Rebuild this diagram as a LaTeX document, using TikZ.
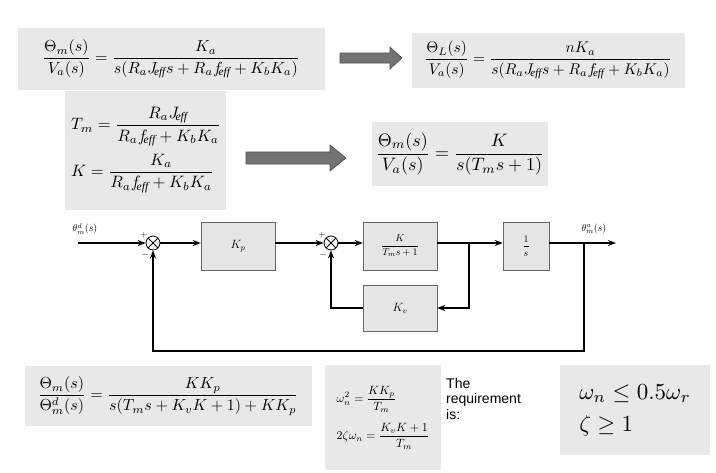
\documentclass[tikz,border=0pt]{standalone}
\usepackage{amsmath}
\usepackage{fontspec}
\setmainfont{Liberation Serif}
\newfontfamily\sansf{Liberation Sans}
\usetikzlibrary{arrows.meta}
\begin{document}
\begin{tikzpicture}[x=1pt,y=-1pt,
  gbox/.style={fill=black!9,inner sep=3pt},
  blk/.style={draw=black!60,fill=black!10,minimum width=74pt,minimum height=48pt,inner sep=0pt},
  sig/.style={line width=1.3pt,-{Stealth[length=8pt,width=6pt]}},
  ln/.style={line width=1.3pt},
  fatarrow/.style={draw=black!70,fill=black!55,line width=0.6pt},
  sumj/.style={circle,draw,line width=0.8pt,minimum size=14pt,inner sep=0pt,path picture={\draw[line width=0.8pt] (path picture bounding box.north west)--(path picture bounding box.south east) (path picture bounding box.north east)--(path picture bounding box.south west);}}]
\useasboundingbox (0,0) rectangle (716,472);
\fill[white] (0,0) rectangle (716,472);
% top equations
\fill[black!9] (18,28) rectangle (325,90);
\node[scale=1.6] (e1) at (171,59) {$\displaystyle\frac{\Theta_m(s)}{V_a(s)}=\frac{K_a}{s(R_aJ_{\!\mathit{eff}}s+R_af_{\!\mathit{eff}}+K_bK_a)}$};
\fill[black!9] (412,33) rectangle (685,88);
\node[scale=1.55] (e2) at (548,60) {$\displaystyle\frac{\Theta_L(s)}{V_a(s)}=\frac{nK_a}{s(R_aJ_{\!\mathit{eff}}s+R_af_{\!\mathit{eff}}+K_bK_a)}$};
\fill[black!9] (65,91) rectangle (226,210);
\node[scale=1.65,align=left] (e3) at (146,150) {$\displaystyle T_m=\frac{R_aJ_{\!\mathit{eff}}}{R_af_{\!\mathit{eff}}+K_bK_a}$\\[4pt]$\displaystyle K=\frac{K_a}{R_af_{\!\mathit{eff}}+K_bK_a}$};
\fill[black!9] (372,122) rectangle (548,186);
\node[scale=1.8] (e4) at (460,154) {$\displaystyle\frac{\Theta_m(s)}{V_a(s)}=\frac{K}{s(T_ms+1)}$};
\path[fatarrow] (340,53)--(390,53)--(390,47)--(402,58)--(390,69)--(390,63)--(340,63)--cycle;
\path[fatarrow] (246,152)--(330,152)--(330,145)--(346,158)--(330,171)--(330,164)--(246,164)--cycle;
% block diagram
\coordinate (in) at (78,243);
\node at (85,229) {$\theta_m^d(s)$};
\node[sumj] (s1) at (153,243) {};
\node[blk] (kp) at (238,246) {\large$K_p$};
\node[sumj] (s2) at (331,243) {};
\node[blk] (g) at (400,246) {$\dfrac{K}{T_ms+1}$};
\node[blk,minimum width=46pt] (int) at (526,246) {$\dfrac{1}{s}$};
\node[blk,minimum height=46pt] (kv) at (400,308) {\large$K_v$};
\coordinate (br) at (469,243);
\coordinate (po) at (584,243);
\coordinate (out) at (616,243);
\node at (594,229) {$\theta_m^a(s)$};
\draw[sig] (in)--(s1);
\draw[sig] (s1)--(kp.west|-s1);
\draw[sig] (kp.east|-s2)--(s2);
\draw[sig] (s2)--(g.west|-s2);
\draw[ln] (g.east|-br)--(br);
\draw[sig] (br)--(int.west|-br);
\draw[sig] (int.east|-po)--(out);
\draw[sig] (br)--(br|-kv)--(kv.east);
\draw[sig] (kv.west)-|(s2.south);
\draw[sig] (po)--++(0,108)-|(s1.south);
\node at (144,235) {\small$+$};
\node at (145,255) {\small$-$};
\node at (322,235) {\small$+$};
\node at (323,255) {\small$-$};
% bottom
\fill[black!9] (25,366) rectangle (312,426);
\node[scale=1.6] (e5) at (168,396) {$\displaystyle\frac{\Theta_m(s)}{\Theta^d_m(s)}=\frac{KK_p}{s(T_ms+K_vK+1)+KK_p}$};
\fill[black!9] (325,365) rectangle (441,470);
\node[align=left,scale=1.2] (e6) at (383,418) {$\displaystyle\omega_n^2=\frac{KK_p}{T_m}$\\[8pt]$\displaystyle2\zeta\omega_n=\frac{K_vK+1}{T_m}$};
\node[align=left,anchor=north west,inner sep=0pt,font=\sansf\fontsize{14}{15.5}\selectfont] (req) at (446,378) {The\\requirement\\is:};
\fill[black!9] (560,365) rectangle (710,455);
\node[align=left,scale=2.3] (e7) at (635,410) {$\omega_n\le0.5\omega_r$\\[2pt]$\zeta\ge1$};
\end{tikzpicture}
\end{document}
